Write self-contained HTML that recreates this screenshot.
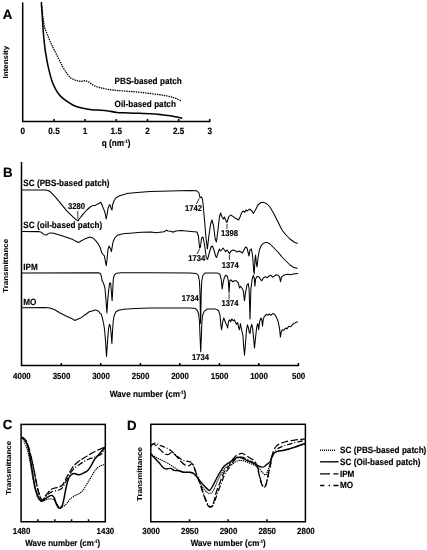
<!DOCTYPE html>
<html lang="en"><head><meta charset="utf-8"><title>Figure</title>
<style>html,body{margin:0;padding:0;background:#fff}body{width:427px;height:550px;overflow:hidden}svg{display:block}text{font-family:"Liberation Sans",Arial,Helvetica,sans-serif;font-weight:bold;fill:#000;stroke:#000;stroke-width:0.15px;text-rendering:geometricPrecision}.t{font-size:9.05px;word-spacing:0.2px}.k{font-size:9.1px}.n{font-size:8.8px}.m{font-size:8.5px}.w{font-size:8.9px}.r{font-size:7.95px;stroke-width:0.05px}.p{font-size:13.3px}.ax{stroke:#000;stroke-width:1.5;fill:none;stroke-linecap:butt;stroke-linejoin:miter}.c{stroke:#000;fill:none;stroke-linejoin:round;stroke-linecap:butt}</style></head><body>
<svg width="427" height="550" viewBox="0 0 427 550">
<rect width="427" height="550" fill="#fff"/>
<g id="panelA">
<path class="ax" d="M22.7 2.5 V121.5 H210.3"/>
<path class="ax" stroke-width="1.2" d="M54.0 121.5 v-2.6M85.1 121.5 v-2.6M116.3 121.5 v-2.6M147.5 121.5 v-2.6M178.7 121.5 v-2.6M209.7 121.5 v-2.6"/>
<text class="k" transform="translate(22.9 134.1) scale(0.9 1)" text-anchor="middle">0</text>
<text class="k" transform="translate(54.0 134.1) scale(0.9 1)" text-anchor="middle">0.5</text>
<text class="k" transform="translate(85.1 134.1) scale(0.9 1)" text-anchor="middle">1</text>
<text class="k" transform="translate(116.3 134.1) scale(0.9 1)" text-anchor="middle">1.5</text>
<text class="k" transform="translate(147.5 134.1) scale(0.9 1)" text-anchor="middle">2</text>
<text class="k" transform="translate(178.7 134.1) scale(0.9 1)" text-anchor="middle">2.5</text>
<text class="k" transform="translate(209.7 134.1) scale(0.9 1)" text-anchor="middle">3</text>
<text class="k" transform="translate(116.1 146.2) scale(0.9 1)" text-anchor="middle">q (nm<tspan font-size="4.6" dy="-3.2">-1</tspan><tspan dy="3.2">)</tspan></text>
<text class="r" transform="translate(7.9 62.1) rotate(-90) scale(1 0.9)" text-anchor="middle">Intensity</text>
<text class="p" x="2.7" y="18.9">A</text>
<path class="c" stroke-width="1.55" d="M41.3 2.6 C41.4 4.2 41.8 8.9 42.0 12.0 C42.2 15.1 42.3 17.4 42.6 21.4 C42.9 25.3 43.2 31.2 43.6 35.7 C44.0 40.2 44.6 45.4 45.0 48.6 C45.4 51.8 45.6 52.9 46.0 55.0 C46.4 57.1 46.6 58.7 47.1 61.4 C47.6 64.1 48.5 68.1 49.3 71.4 C50.1 74.7 51.0 78.4 52.1 81.4 C53.2 84.4 54.3 86.8 55.7 89.3 C57.1 91.8 58.8 94.4 60.7 96.4 C62.6 98.4 64.8 99.9 67.1 101.4 C69.4 103.0 71.7 104.6 74.3 105.7 C76.9 106.8 80.1 107.6 82.9 108.3 C85.8 109.0 88.4 109.4 91.4 109.7 C94.4 110.0 98.2 110.1 101.0 110.3 C103.8 110.5 105.8 110.7 108.4 111.0 C111.1 111.3 113.6 112.1 116.9 112.4 C120.2 112.7 124.4 112.8 128.1 113.0 C131.8 113.2 135.6 113.2 139.3 113.3 C143.1 113.4 146.8 113.6 150.6 113.8 C154.3 114.0 158.5 114.4 161.8 114.7 C165.1 115.0 167.7 115.4 170.3 115.8 C172.9 116.2 175.3 116.5 177.3 116.9 C179.3 117.3 181.5 118.1 182.3 118.3"/>
<path class="c" stroke-width="1.45" style="stroke-linecap:round" stroke-dasharray="0.2 2.15" d="M41.5 2.6 C41.6 4.2 42.1 9.1 42.4 12.0 C42.7 14.9 43.0 17.5 43.4 20.0 C43.8 22.5 43.8 24.5 44.5 27.1 C45.2 29.7 46.8 32.8 47.9 35.7 C49.0 38.6 50.3 41.9 51.4 44.3 C52.5 46.7 53.1 47.6 54.3 50.0 C55.5 52.4 57.2 55.8 58.6 58.6 C60.0 61.5 61.5 64.6 62.9 67.1 C64.3 69.6 65.8 71.8 67.1 73.6 C68.4 75.4 69.3 76.8 70.7 77.9 C72.1 79.0 74.0 79.7 75.7 80.3 C77.4 80.9 79.2 81.3 80.7 81.4 C82.2 81.5 83.7 80.7 85.0 80.8 C86.3 80.9 87.3 81.4 88.6 82.1 C89.9 82.8 91.5 84.2 92.9 85.0 C94.3 85.8 95.8 86.4 97.1 86.9 C98.4 87.4 100.0 87.7 101.0 87.9 C102.0 88.1 101.9 88.0 103.1 88.2 C104.3 88.5 106.1 89.0 108.4 89.4 C110.7 89.8 113.6 90.2 116.9 90.5 C120.2 90.8 124.4 91.0 128.1 91.3 C131.8 91.6 135.6 91.8 139.3 92.2 C143.1 92.6 146.8 93.1 150.6 93.6 C154.3 94.1 158.5 94.5 161.8 95.0 C165.1 95.5 168.0 96.1 170.3 96.7 C172.7 97.3 174.0 97.7 175.9 98.4 C177.8 99.2 180.6 100.7 181.5 101.2"/>
<text class="t" transform="translate(114.6 84.4) scale(0.9 1)">PBS-based patch</text>
<text class="t" transform="translate(114.6 107.3) scale(0.9 1)">Oil-based patch</text>
</g>
<g id="panelB">
<path class="ax" d="M21.5 162 V365.6 H299.1"/>
<path class="ax" stroke-width="1.2" d="M61.3 365.6 v-2.6M100.8 365.6 v-2.6M140.4 365.6 v-2.6M179.8 365.6 v-2.6M219.4 365.6 v-2.6M258.8 365.6 v-2.6M298.4 365.6 v-2.6"/>
<text class="n" transform="translate(21.9 378.5) scale(0.9 1)" text-anchor="middle">4000</text>
<text class="n" transform="translate(61.5 378.5) scale(0.9 1)" text-anchor="middle">3500</text>
<text class="n" transform="translate(101.0 378.5) scale(0.9 1)" text-anchor="middle">3000</text>
<text class="n" transform="translate(140.6 378.5) scale(0.9 1)" text-anchor="middle">2500</text>
<text class="n" transform="translate(180.0 378.5) scale(0.9 1)" text-anchor="middle">2000</text>
<text class="n" transform="translate(219.6 378.5) scale(0.9 1)" text-anchor="middle">1500</text>
<text class="n" transform="translate(259.0 378.5) scale(0.9 1)" text-anchor="middle">1000</text>
<text class="n" transform="translate(298.6 378.5) scale(0.9 1)" text-anchor="middle">500</text>
<text class="t" transform="translate(148 397.1) scale(0.9 1)" text-anchor="middle">Wave number (cm<tspan font-size="4.6" dy="-3.2">-1</tspan><tspan dy="3.2">)</tspan></text>
<text class="r" transform="translate(8.3 265.8) rotate(-90) scale(1 0.9)" text-anchor="middle">Transmittance</text>
<text class="p" x="3" y="177.3">B</text>
<path class="c" stroke-width="1.05" d="M21.4 189.9 L45.5 189.9 L48.0 190.5 L50.4 191.8 L55.1 196.7 L61.0 203.8 L66.8 210.8 L72.7 216.6 L75.5 219.2 L78.1 220.9 L79.6 218.5 L82.7 214.6 L86.8 210.0 L90.2 207.0 L92.6 205.6 L95.4 205.4 L98.3 203.7 L100.9 202.3 L101.8 204.5 L103.5 208.6 L104.8 212.0 L106.2 218.9 L106.9 215.5 L108.0 208.6 L109.3 204.8 L110.3 205.2 L111.4 209.3 L112.0 210.0 L112.7 204.5 L114.1 200.5 L116.1 197.7 L119.5 195.7 L125.0 194.3 L126.4 193.6 L137.3 192.4 L150.0 191.6 L170.0 190.9 L190.0 190.6 L196.8 190.8 L199.0 193.0 L200.0 197.6 L201.6 197.0 L202.6 200.0 L204.0 214.0 L206.0 238.0 L207.4 249.0 L208.6 238.0 L210.6 224.0 L212.0 220.0 L213.6 226.0 L215.2 239.0 L216.4 242.0 L218.0 230.0 L219.4 217.0 L220.6 213.0 L222.0 217.0 L223.4 219.0 L224.4 217.0 L226.0 221.0 L227.0 222.4 L228.6 217.0 L230.6 215.0 L233.0 216.4 L235.0 218.0 L237.0 219.0 L238.6 220.0 L240.0 217.0 L242.0 212.0 L243.4 211.0 L244.6 212.4 L246.0 210.0 L247.4 211.0 L249.4 209.0 L252.0 211.0 L253.4 213.4 L255.4 210.0 L258.0 205.0 L261.0 202.4 L264.0 202.4 L267.0 204.0 L270.0 207.0 L274.0 214.0 L278.0 222.0 L282.0 230.0 L286.0 235.0 L290.0 239.0 L294.0 242.0 L297.6 243.4"/>
<path class="c" stroke-width="1.05" d="M21.4 231.5 L38.5 231.6 L40.7 231.9 L42.9 233.6 L44.3 234.7 L46.4 235.0 L47.9 233.9 L50.0 232.9 L53.6 233.3 L58.6 234.7 L65.7 237.1 L72.9 239.6 L76.5 241.5 L78.4 242.5 L79.8 241.7 L81.4 240.7 L84.5 239.1 L87.1 238.1 L90.2 237.0 L93.0 238.0 L95.7 240.7 L98.4 244.1 L100.5 248.2 L101.5 252.3 L102.9 254.3 L104.3 255.7 L105.2 260.5 L106.2 265.6 L106.9 260.5 L108.0 249.5 L109.0 246.1 L110.3 248.2 L111.4 251.6 L112.2 246.8 L113.0 242.0 L114.8 238.0 L117.5 235.2 L120.9 234.3 L125.0 233.6 L130.0 233.2 L141.4 232.3 L151.4 231.9 L155.7 232.8 L160.0 232.2 L164.3 231.8 L166.4 230.2 L167.9 231.0 L171.4 231.3 L172.9 232.3 L175.7 231.0 L178.6 230.7 L181.4 230.5 L191.0 231.4 L197.0 232.0 L198.4 236.0 L199.6 248.0 L200.4 247.0 L201.6 238.0 L203.0 237.0 L204.4 244.0 L206.4 258.0 L207.6 259.4 L209.0 254.0 L211.0 247.0 L212.4 246.0 L214.0 250.0 L215.6 256.0 L216.6 257.4 L218.0 253.0 L219.4 249.0 L220.6 251.0 L221.6 250.0 L223.0 248.0 L224.4 250.0 L225.6 251.6 L227.0 250.0 L228.6 252.0 L229.4 253.6 L231.0 251.0 L233.0 250.0 L235.0 250.6 L237.0 252.0 L239.0 251.0 L241.0 252.0 L242.4 253.0 L244.0 250.0 L245.6 247.0 L247.0 248.0 L248.0 252.0 L249.0 256.0 L250.0 250.0 L251.4 249.0 L252.6 256.0 L253.6 270.0 L254.2 274.0 L255.0 259.0 L255.6 255.0 L256.4 264.0 L257.0 267.0 L258.0 258.0 L259.4 250.0 L261.0 246.0 L263.0 243.6 L265.0 242.6 L267.0 242.4 L270.0 244.0 L274.0 248.0 L278.0 252.0 L282.0 257.0 L286.0 261.0 L290.0 265.0 L294.0 267.6 L297.6 268.4"/>
<path class="c" stroke-width="1.05" d="M21.4 272.9 L98.6 272.8 L100.3 273.4 L101.4 276.3 L102.1 280.6 L103.6 283.4 L105.0 288.4 L106.0 300.6 L106.9 312.9 L107.7 300.6 L108.6 290.6 L109.7 282.7 L110.7 283.4 L111.4 292.0 L112.1 300.8 L112.7 290.6 L113.3 279.1 L114.3 275.1 L116.4 273.2 L121.4 272.8 L150.0 272.8 L190.0 272.9 L196.4 273.5 L198.4 275.5 L199.4 281.0 L199.9 290.0 L200.6 323.3 L201.3 290.0 L201.8 281.0 L202.8 275.5 L205.0 273.1 L217.3 272.9 L220.0 274.3 L221.3 279.8 L222.2 288.9 L223.3 281.7 L224.5 277.1 L225.8 275.3 L227.3 276.3 L228.2 279.8 L229.1 292.6 L229.8 280.8 L230.9 279.8 L232.7 281.7 L234.5 280.8 L236.4 280.8 L238.2 282.6 L239.5 288.0 L240.5 286.2 L241.8 288.0 L243.3 290.8 L244.5 300.8 L245.5 292.6 L246.9 285.3 L248.2 283.5 L249.1 288.9 L250.0 318.9 L250.9 288.9 L252.2 278.9 L253.3 275.3 L254.2 278.0 L254.9 286.3 L255.6 278.9 L257.3 276.3 L259.1 277.1 L260.9 279.8 L261.8 280.8 L263.3 278.0 L265.5 276.6 L267.3 277.7 L268.7 276.3 L270.9 275.3 L272.7 277.1 L274.0 276.3 L275.8 274.8 L278.2 275.3 L279.6 277.1 L280.5 281.7 L281.5 277.1 L283.6 275.3 L287.3 274.3 L290.9 274.8 L294.5 273.8 L298.2 273.5"/>
<path class="c" stroke-width="1.05" d="M21.4 307.7 L45.0 307.4 L49.8 307.9 L54.8 309.8 L59.7 312.7 L65.6 315.7 L71.5 318.4 L75.0 320.5 L77.4 319.2 L81.3 317.7 L85.2 314.7 L89.2 311.8 L95.7 309.9 L98.6 311.3 L100.0 313.4 L101.4 314.3 L102.6 319.1 L103.6 323.5 L104.6 330.0 L105.6 342.0 L106.5 356.4 L107.5 342.0 L108.5 329.0 L109.4 324.3 L110.2 325.5 L111.2 334.3 L111.9 343.5 L112.6 330.0 L113.2 321.5 L114.0 316.3 L115.7 312.0 L118.6 310.3 L124.0 309.3 L135.5 308.6 L150.0 308.0 L190.0 308.0 L195.5 308.6 L197.6 310.8 L198.8 315.0 L199.5 322.0 L200.1 338.0 L200.7 351.7 L201.3 338.0 L201.9 322.0 L202.7 315.0 L204.2 311.4 L207.3 308.9 L215.5 308.9 L218.7 310.8 L220.0 315.3 L220.9 325.3 L221.6 329.8 L222.7 321.7 L223.8 318.0 L224.9 320.8 L225.8 323.5 L226.9 325.3 L227.6 328.0 L228.5 321.7 L229.6 319.8 L230.7 321.7 L231.8 318.9 L233.3 320.8 L234.4 319.8 L235.5 322.6 L236.5 324.3 L237.6 322.6 L238.7 328.0 L239.5 329.8 L240.4 323.5 L241.3 328.0 L242.2 332.6 L242.9 334.8 L243.6 345.3 L244.5 355.3 L245.5 343.5 L246.4 330.8 L247.4 324.8 L248.3 327.3 L249.1 331.7 L250.0 333.5 L250.9 327.1 L251.8 324.3 L252.7 328.9 L253.6 338.0 L254.5 348.0 L255.5 338.0 L256.7 327.1 L257.8 323.5 L258.7 329.8 L259.6 321.7 L260.9 318.0 L261.8 319.8 L262.5 326.3 L263.3 318.9 L264.5 316.3 L266.4 314.3 L267.6 315.3 L269.1 314.0 L270.9 315.3 L272.7 313.5 L274.5 314.3 L276.4 317.1 L278.2 321.7 L279.6 328.9 L280.4 337.1 L281.1 332.6 L282.2 329.8 L283.6 330.3 L285.5 328.0 L286.9 328.9 L288.7 326.3 L290.5 326.8 L292.7 324.3 L295.5 322.6 L297.8 321.7"/>
<text class="t" transform="translate(23.2 186.2) scale(0.9 1)">SC (PBS-based patch)</text>
<text class="t" transform="translate(23.2 228.1) scale(0.9 1)">SC (oil-based patch)</text>
<text class="t" transform="translate(23.2 269.9) scale(0.9 1)">IPM</text>
<text class="t" transform="translate(23.2 304.8) scale(0.9 1)">MO</text>
<text class="m" transform="translate(68.1 209.1) scale(0.9 1)">3280</text>
<text class="m" transform="translate(185.1 211.1) scale(0.9 1)">1742</text>
<text class="m" transform="translate(221.1 235.8) scale(0.9 1)">1398</text>
<text class="m" transform="translate(188.2 261.4) scale(0.9 1)">1734</text>
<text class="m" transform="translate(221.8 267.8) scale(0.9 1)">1374</text>
<text class="m" transform="translate(181.8 300.9) scale(0.9 1)">1734</text>
<text class="m" transform="translate(221.4 306.4) scale(0.9 1)">1374</text>
<text class="m" transform="translate(191.9 359.6) scale(0.9 1)">1734</text>
<path class="c" stroke-width="0.8" d="M77.8 210.9V218.9 M196.4 204L199.2 198.4 M227 223.8V228.8 M197 254L199.6 249 M229.4 254.5V260 M229.1 293.5V299.5"/>
</g>
<g id="panelC">
<rect class="ax" x="21.1" y="424.4" width="84.2" height="97.35"/>
<path class="ax" stroke-linecap="butt" stroke-width="1" d="M37.9 521.7 v-2.4M54.8 521.7 v-2.4M71.6 521.7 v-2.4M88.5 521.7 v-2.4"/>
<text class="n" transform="translate(21.6 534.4) scale(0.9 1)" text-anchor="middle">1480</text>
<text class="n" transform="translate(105.4 534.4) scale(0.9 1)" text-anchor="middle">1430</text>
<text class="w" transform="translate(62.8 546.0) scale(0.9 1)" text-anchor="middle">Wave number (cm<tspan font-size="4.6" dy="-3.2">-1</tspan><tspan dy="3.2">)</tspan></text>
<text class="r" transform="translate(11.3 467.8) rotate(-90) scale(1 0.9)" text-anchor="middle">Transmittance</text>
<text class="p" x="2.8" y="429.3">C</text>
<path class="c" stroke-width="1.3" style="stroke-linecap:round" stroke-dasharray="0.2 1.95" d="M22.0 438.0 C22.3 438.5 23.0 438.8 23.9 440.8 C24.8 442.8 26.4 446.6 27.4 450.0 C28.4 453.4 29.1 456.8 29.9 460.9 C30.7 465.0 31.4 470.4 32.2 474.8 C33.0 479.2 33.8 483.6 34.6 487.2 C35.5 490.8 36.4 494.2 37.3 496.5 C38.2 498.8 39.1 500.0 40.0 500.8 C40.9 501.6 41.6 501.3 42.7 501.1 C43.8 500.9 45.3 500.0 46.6 499.6 C47.9 499.2 49.4 498.8 50.5 498.8 C51.6 498.8 52.5 498.8 53.5 499.6 C54.5 500.4 55.7 502.2 56.6 503.4 C57.5 504.5 58.2 505.9 59.0 506.5 C59.8 507.1 60.4 507.4 61.3 507.3 C62.2 507.2 63.4 506.5 64.4 505.7 C65.4 504.9 66.5 503.8 67.5 502.6 C68.5 501.5 69.2 500.0 70.4 498.8 C71.7 497.6 73.5 496.6 75.0 495.7 C76.5 494.8 78.2 494.3 79.6 493.4 C81.0 492.4 81.9 491.7 83.2 490.0 C84.5 488.3 86.0 485.4 87.3 483.3 C88.6 481.2 89.6 479.4 90.8 477.5 C92.0 475.6 93.1 473.3 94.3 471.6 C95.5 469.9 96.6 468.5 97.8 467.5 C99.0 466.5 100.2 466.0 101.3 465.5 C102.4 465.0 104.0 464.8 104.5 464.6"/>
<path class="c" stroke-width="1.25" stroke-dasharray="7 2" d="M22.0 438.0 C22.4 438.1 23.3 437.6 24.2 438.6 C25.1 439.6 26.4 440.9 27.5 443.9 C28.6 446.8 29.9 451.7 31.0 456.3 C32.1 460.9 33.2 466.6 34.3 471.7 C35.3 476.8 36.3 483.1 37.3 487.2 C38.2 491.3 39.2 494.3 40.0 496.5 C40.8 498.7 41.5 500.3 42.3 500.3 C43.1 500.3 44.0 497.8 45.0 496.5 C46.0 495.2 47.1 493.8 48.1 492.6 C49.1 491.4 50.0 490.3 51.2 489.5 C52.4 488.7 53.8 488.4 55.1 488.0 C56.4 487.6 57.9 487.3 59.0 486.9 C60.1 486.5 61.1 486.4 62.0 485.5 C62.9 484.6 63.7 483.3 64.5 481.8 C65.3 480.3 66.0 478.3 67.0 476.5 C68.0 474.7 69.1 472.9 70.3 471.0 C71.5 469.1 72.9 466.8 74.4 465.2 C75.9 463.6 77.2 462.5 79.1 461.1 C80.9 459.7 83.7 458.2 85.5 457.0 C87.3 455.8 88.2 455.3 90.2 454.1 C92.2 452.9 95.3 451.2 97.8 450.0 C100.3 448.8 103.8 447.5 105.0 447.0"/>
<path class="c" stroke-width="1.25" stroke-dasharray="6 1.8 1.2 1.8" d="M22.0 438.0 C22.4 438.1 23.3 437.6 24.2 438.6 C25.1 439.6 26.4 440.9 27.5 443.9 C28.6 446.8 29.9 451.7 31.0 456.3 C32.1 460.9 33.2 466.6 34.3 471.7 C35.3 476.8 36.3 483.1 37.3 487.2 C38.2 491.3 39.2 494.3 40.0 496.5 C40.8 498.7 41.5 500.2 42.3 500.3 C43.1 500.4 44.0 498.2 45.0 497.2 C46.0 496.2 47.1 495.0 48.1 494.1 C49.1 493.2 50.0 492.6 51.2 492.1 C52.4 491.6 53.8 491.4 55.1 491.0 C56.4 490.6 57.9 490.5 59.0 490.0 C60.1 489.5 61.1 489.2 62.0 488.2 C62.9 487.2 63.7 485.4 64.5 484.0 C65.3 482.6 66.1 481.2 67.0 479.5 C67.9 477.8 69.0 475.7 70.0 474.0 C71.0 472.3 72.1 470.6 73.2 469.3 C74.3 468.1 75.3 467.4 76.5 466.5 C77.7 465.6 78.9 464.9 80.2 464.0 C81.5 463.1 82.9 462.2 84.3 461.4 C85.7 460.6 87.0 459.9 88.4 459.3 C89.8 458.7 91.1 458.3 92.5 457.8 C93.9 457.3 95.1 457.0 96.6 456.4 C98.1 455.8 100.2 455.2 101.3 454.3 C102.4 453.4 102.6 452.2 103.2 451.0 C103.8 449.8 104.7 447.9 105.0 447.3"/>
<path class="c" stroke-width="1.5" d="M22.0 438.0 C22.1 437.9 22.0 437.2 22.6 437.7 C23.2 438.2 24.7 438.8 25.7 440.8 C26.7 442.9 27.8 445.4 28.8 450.0 C29.8 454.6 30.9 462.4 31.9 468.6 C32.9 474.8 34.0 482.6 35.0 487.2 C36.0 491.8 37.1 494.2 38.1 496.5 C39.1 498.8 40.2 500.3 41.2 500.8 C42.2 501.3 43.1 500.3 44.3 499.6 C45.4 498.9 46.8 497.5 48.1 496.8 C49.4 496.1 51.0 495.2 52.0 495.4 C53.0 495.6 53.6 496.4 54.3 497.9 C55.0 499.4 55.7 502.6 56.4 504.3 C57.1 506.0 57.9 507.3 58.6 507.9 C59.3 508.5 60.1 508.4 60.7 507.9 C61.4 507.4 61.9 506.8 62.5 505.0 C63.1 503.2 63.8 499.5 64.3 497.0 C64.8 494.5 65.1 492.5 65.6 490.0 C66.1 487.5 66.8 484.3 67.4 482.2 C68.0 480.1 68.4 478.8 69.1 477.5 C69.8 476.2 70.6 475.2 71.5 474.5 C72.4 473.8 73.4 473.4 74.4 473.4 C75.4 473.4 76.3 474.3 77.3 474.5 C78.3 474.7 79.1 474.8 80.2 474.5 C81.3 474.2 82.6 473.4 83.8 472.8 C85.0 472.2 86.3 471.8 87.3 471.0 C88.3 470.2 88.8 469.3 89.6 468.1 C90.4 466.9 91.2 465.4 92.0 464.0 C92.8 462.6 93.5 461.1 94.3 459.9 C95.1 458.7 95.6 458.2 96.6 457.0 C97.6 455.8 98.8 454.5 100.2 452.9 C101.6 451.3 104.2 448.2 105.0 447.3"/>
</g>
<g id="panelD">
<rect class="ax" x="150.8" y="424.3" width="154.6" height="97.45"/>
<path class="ax" stroke-linecap="butt" stroke-width="1" d="M189.5 521.7 v-2.4M228.2 521.7 v-2.4M266.9 521.7 v-2.4"/>
<text class="n" transform="translate(151.1 534.4) scale(0.9 1)" text-anchor="middle">3000</text>
<text class="n" transform="translate(189.8 534.4) scale(0.9 1)" text-anchor="middle">2950</text>
<text class="n" transform="translate(228.5 534.4) scale(0.9 1)" text-anchor="middle">2900</text>
<text class="n" transform="translate(267.2 534.4) scale(0.9 1)" text-anchor="middle">2850</text>
<text class="n" transform="translate(305.9 534.4) scale(0.9 1)" text-anchor="middle">2800</text>
<text class="w" transform="translate(228.2 545.9) scale(0.9 1)" text-anchor="middle">Wave number (cm<tspan font-size="4.6" dy="-3.2">-1</tspan><tspan dy="3.2">)</tspan></text>
<text class="r" transform="translate(142.2 474) rotate(-90) scale(1 0.9)" text-anchor="middle">Transmittance</text>
<text class="p" x="127.1" y="429.6">D</text>
<path class="c" stroke-width="1.3" style="stroke-linecap:round" stroke-dasharray="0.2 1.95" d="M150.8 454.0 C151.9 454.7 155.4 457.0 157.4 458.1 C159.4 459.2 161.1 460.0 163.0 460.9 C164.9 461.8 166.7 462.6 168.6 463.7 C170.5 464.8 172.5 466.4 174.2 467.5 C175.9 468.6 177.3 469.5 178.9 470.3 C180.5 471.1 181.6 471.8 183.6 472.2 C185.6 472.6 189.1 472.2 191.1 472.7 C193.1 473.2 194.4 473.5 195.8 475.0 C197.2 476.5 198.2 479.3 199.5 481.5 C200.8 483.7 202.1 486.3 203.3 488.1 C204.6 489.9 205.8 491.3 207.0 492.2 C208.2 493.1 209.7 493.7 210.8 493.3 C211.9 492.9 212.5 492.0 213.6 490.0 C214.7 488.0 216.1 484.2 217.3 481.5 C218.6 478.8 219.8 476.2 221.1 474.0 C222.3 471.8 223.7 469.7 224.8 468.4 C226.0 467.1 226.8 466.6 228.0 466.0 C229.2 465.4 230.4 465.4 231.7 464.7 C232.9 464.0 234.2 462.5 235.5 461.8 C236.8 461.1 237.8 460.5 239.2 460.4 C240.6 460.2 242.3 460.5 243.9 460.9 C245.5 461.3 247.0 462.2 248.6 462.8 C250.2 463.4 251.9 464.1 253.3 464.7 C254.7 465.3 255.9 465.7 257.0 466.5 C258.1 467.3 258.9 468.3 259.8 469.3 C260.8 470.3 261.8 471.8 262.7 472.7 C263.6 473.6 264.7 475.1 265.5 475.0 C266.3 474.9 266.7 473.6 267.3 472.2 C267.9 470.8 268.5 468.9 269.2 466.5 C269.9 464.1 270.7 460.3 271.5 458.1 C272.3 455.9 272.9 454.5 273.9 453.4 C274.9 452.3 275.9 452.0 277.6 451.5 C279.3 451.0 281.9 450.7 284.2 450.2 C286.5 449.7 289.2 449.1 291.7 448.4 C294.2 447.7 296.9 446.6 299.2 445.9 C301.5 445.2 304.4 444.3 305.5 444.0"/>
<path class="c" stroke-width="1.25" stroke-dasharray="7 2.5" d="M150.8 445.9 C151.3 445.6 152.5 443.8 153.6 444.0 C154.7 444.2 156.2 445.8 157.4 446.9 C158.7 448.0 159.8 449.4 161.1 450.6 C162.3 451.8 163.7 453.4 164.9 454.0 C166.2 454.6 167.5 454.6 168.6 454.4 C169.7 454.1 170.5 452.6 171.4 452.5 C172.3 452.4 173.1 453.1 174.2 454.0 C175.3 454.9 176.8 456.7 178.0 458.1 C179.2 459.5 180.4 461.0 181.7 462.2 C182.9 463.4 184.2 464.6 185.5 465.2 C186.8 465.8 188.1 465.9 189.2 465.6 C190.3 465.4 191.2 463.6 192.0 463.7 C192.8 463.8 193.3 465.1 193.9 466.5 C194.5 467.9 195.0 470.0 195.8 472.2 C196.6 474.4 197.7 477.0 198.6 479.6 C199.5 482.2 200.5 485.3 201.4 488.1 C202.3 490.9 203.3 493.9 204.2 496.5 C205.1 499.1 206.1 502.2 207.0 504.0 C207.9 505.8 208.9 507.1 209.8 507.2 C210.7 507.3 211.8 506.2 212.6 504.9 C213.4 503.6 213.9 501.5 214.5 499.3 C215.1 497.1 215.5 494.6 216.4 491.8 C217.3 489.0 218.9 485.3 220.0 482.5 C221.1 479.7 221.9 477.1 222.8 475.0 C223.7 472.9 224.6 471.1 225.6 469.7 C226.6 468.3 227.9 467.8 228.8 466.5 C229.7 465.2 229.8 463.8 230.8 462.2 C231.8 460.6 233.3 458.5 234.6 457.2 C235.8 455.9 237.1 455.0 238.3 454.4 C239.5 453.8 240.8 453.2 242.0 453.4 C243.2 453.5 244.6 454.6 245.8 455.3 C247.1 456.0 248.2 456.9 249.5 457.7 C250.8 458.5 252.2 459.0 253.3 460.0 C254.4 461.0 255.3 462.0 256.1 463.7 C256.9 465.4 257.4 467.9 258.0 470.3 C258.6 472.7 259.2 475.5 259.8 477.8 C260.4 480.1 261.1 482.8 261.7 484.3 C262.3 485.8 263.0 486.4 263.6 486.6 C264.2 486.8 264.9 486.3 265.5 485.3 C266.1 484.3 266.5 482.5 267.0 480.6 C267.5 478.7 267.8 476.5 268.3 474.0 C268.8 471.5 269.6 468.6 270.2 465.6 C270.8 462.6 271.4 458.9 272.0 456.2 C272.6 453.5 273.1 451.4 273.9 449.7 C274.7 448.0 275.6 446.9 276.7 445.9 C277.8 444.9 278.9 444.2 280.5 443.5 C282.1 442.8 283.9 442.1 286.1 441.6 C288.3 441.1 291.1 440.7 293.6 440.3 C296.1 439.9 299.1 439.6 301.1 439.4 C303.1 439.2 304.8 439.1 305.5 439.0"/>
<path class="c" stroke-width="1.25" stroke-dasharray="5.6 1.9 1 1.9" d="M150.8 445.9 C151.4 445.4 153.2 443.2 154.6 443.1 C156.0 443.0 157.5 444.3 159.2 445.0 C160.9 445.7 163.0 446.3 164.9 447.2 C166.8 448.1 168.6 448.8 170.5 450.2 C172.4 451.6 174.4 453.8 176.1 455.3 C177.8 456.8 179.2 458.1 180.8 459.0 C182.4 459.9 183.9 460.4 185.5 460.9 C187.1 461.4 188.9 461.2 190.2 461.8 C191.4 462.4 192.2 463.4 193.0 464.7 C193.8 465.9 194.0 467.3 194.8 469.3 C195.6 471.3 196.7 474.3 197.6 476.8 C198.5 479.3 199.6 481.6 200.5 484.3 C201.4 487.0 202.4 490.1 203.3 492.8 C204.2 495.5 205.2 498.1 206.1 500.3 C207.0 502.5 208.0 504.8 208.9 505.9 C209.8 507.0 210.8 507.4 211.7 506.8 C212.6 506.2 213.6 504.3 214.5 502.1 C215.4 499.9 216.2 496.7 217.3 493.7 C218.4 490.7 219.8 487.1 220.9 484.3 C222.0 481.5 222.8 479.0 223.7 476.8 C224.6 474.6 225.8 472.6 226.6 471.2 C227.4 469.8 228.1 469.5 228.8 468.4 C229.5 467.3 229.8 466.1 230.8 464.7 C231.8 463.3 233.3 461.2 234.6 460.0 C235.8 458.8 237.1 458.2 238.3 457.7 C239.5 457.2 240.6 457.0 242.0 457.2 C243.4 457.4 245.1 458.3 246.7 459.0 C248.3 459.7 250.0 460.7 251.4 461.5 C252.8 462.3 254.2 462.7 255.2 463.7 C256.2 464.7 256.9 465.6 257.6 467.5 C258.3 469.4 258.9 472.5 259.5 475.0 C260.1 477.5 260.7 480.6 261.3 482.5 C261.9 484.4 262.6 485.5 263.2 486.2 C263.8 486.9 264.5 487.2 265.1 486.6 C265.7 486.0 266.3 484.4 266.8 482.5 C267.3 480.6 267.7 477.7 268.3 475.0 C268.9 472.3 269.6 469.3 270.2 466.5 C270.8 463.7 271.3 460.5 272.0 458.1 C272.7 455.7 273.6 453.7 274.5 452.1 C275.4 450.5 276.3 449.6 277.6 448.7 C278.9 447.8 280.6 447.2 282.3 446.5 C284.0 445.8 285.9 445.2 287.9 444.6 C289.9 444.0 292.3 443.3 294.5 442.7 C296.7 442.1 299.3 441.6 301.1 441.2 C302.9 440.8 304.8 440.4 305.5 440.3"/>
<path class="c" stroke-width="1.4" d="M150.8 454.0 C151.6 454.8 154.1 457.5 155.5 459.0 C156.9 460.5 157.9 461.4 159.2 462.8 C160.4 464.2 161.8 466.5 163.0 467.5 C164.2 468.5 165.4 468.9 166.7 469.0 C167.9 469.1 169.2 468.2 170.5 468.4 C171.8 468.6 172.8 469.9 174.2 470.3 C175.6 470.7 177.3 470.5 178.9 470.8 C180.5 471.1 182.0 472.0 183.6 472.2 C185.2 472.4 186.7 472.0 188.3 472.2 C189.9 472.4 191.6 472.3 193.0 473.1 C194.4 473.9 195.4 475.4 196.7 476.8 C197.9 478.2 199.2 480.0 200.5 481.5 C201.8 483.0 202.9 484.4 204.2 485.8 C205.4 487.2 207.1 488.9 208.0 489.6 C208.9 490.4 209.0 490.9 209.8 490.3 C210.6 489.7 211.5 488.1 212.6 486.2 C213.7 484.3 215.2 481.0 216.4 478.7 C217.7 476.4 218.8 474.2 220.1 472.2 C221.3 470.2 222.6 468.0 223.9 466.5 C225.2 465.0 226.7 464.2 228.0 463.3 C229.3 462.4 230.4 461.8 231.7 460.9 C232.9 460.0 234.2 458.7 235.5 458.1 C236.8 457.5 237.9 457.1 239.2 457.2 C240.4 457.3 241.8 458.0 243.0 458.5 C244.2 459.0 245.4 459.8 246.7 460.4 C247.9 460.9 249.2 461.2 250.5 461.8 C251.8 462.4 252.9 463.1 254.2 463.7 C255.4 464.3 256.8 465.0 258.0 465.6 C259.2 466.2 260.6 467.0 261.7 467.1 C262.8 467.2 263.6 467.0 264.5 466.5 C265.4 466.0 266.4 464.9 267.3 464.1 C268.2 463.3 269.4 462.8 270.2 461.5 C271.0 460.2 271.2 457.7 272.0 456.2 C272.8 454.7 273.7 453.4 274.8 452.5 C275.9 451.6 277.0 451.4 278.6 451.0 C280.2 450.6 282.3 450.6 284.2 450.2 C286.1 449.8 287.9 449.2 289.8 448.7 C291.7 448.1 293.5 447.6 295.4 446.9 C297.3 446.2 299.4 445.2 301.1 444.6 C302.8 444.0 304.8 443.4 305.5 443.1"/>
</g>
<g id="legend">
<path class="c" stroke-width="1.5" stroke-dasharray="1 0.97" d="M320.1 450.2H336"/>
<path class="c" stroke-width="1.35" d="M320.1 461.8H338.5"/>
<path class="c" stroke-width="1.35" d="M320.1 473.8H330M333.4 473.8H338.5"/>
<path class="c" stroke-width="1.35" d="M320.1 485.5H324.4M328.6 485.5H330M333.4 485.5H338.5"/>
<text class="t" transform="translate(340.0 453.2) scale(0.9 1)">SC (PBS-based patch)</text>
<text class="t" transform="translate(340.0 464.7) scale(0.9 1)">SC (Oil-based patch)</text>
<text class="t" transform="translate(339.9 476.5) scale(0.9 1)">IPM</text>
<text class="t" transform="translate(339.9 488.1) scale(0.9 1)">MO</text>
</g>
</svg></body></html>
